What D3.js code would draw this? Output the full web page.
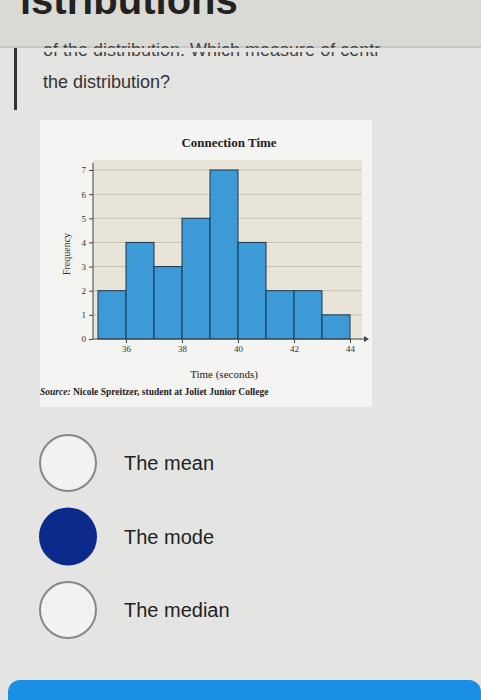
<!DOCTYPE html><html><head><meta charset="utf-8"><script src="https://cdn.jsdelivr.net/npm/d3@7"></script>
<style>body{margin:0;background:#e4e4e2;}svg{display:block}</style></head><body><svg id="c" width="481" height="700"></svg>
<script>
const binStarts=[35,36,37,38,39,40,41,42,43];
const frequencies=[2,4,3,5,7,4,2,2,1];
const xTicks=[36,38,40,42,44];
const yTicks=[0,1,2,3,4,5,6,7];
const options=["The mean","The mode","The median"];
const selected=1;

const svg=d3.select("#c");
svg.append("rect").attr("width",481).attr("height",46).attr("fill","#d9d9d6");
svg.append("text").attr("x",20).attr("y",14).attr("font-family","Liberation Sans, Arial").attr("font-weight","bold").attr("font-size",40).attr("fill","#222").text("istributions");
svg.append("line").attr("x1",0).attr("x2",481).attr("y1",47).attr("y2",47).attr("stroke","#aaa");
svg.append("text").attr("x",43).attr("y",56).attr("font-family","Liberation Sans, Arial").attr("font-size",18).attr("fill","#444").text("of the distribution. Which measure of centr");
svg.append("rect").attr("x",0).attr("y",48).attr("width",481).attr("height",4).attr("fill","#e4e4e2");
svg.append("rect").attr("x",14).attr("y",48).attr("width",3).attr("height",62).attr("fill","#333");
svg.append("text").attr("x",43).attr("y",88).attr("font-family","Liberation Sans, Arial").attr("font-size",18).attr("fill","#333").text("the distribution?");

svg.append("rect").attr("x",40).attr("y",120).attr("width",332).attr("height",287).attr("fill","#f4f4f2");
const x=d3.scaleLinear().domain([35,44]).range([98,350]);
const y=d3.scaleLinear().domain([0,7]).range([339,170]);
const serif="Liberation Serif, Times New Roman";
svg.append("rect").attr("x",93).attr("y",160).attr("width",269).attr("height",179).attr("fill","#e9e4d8");
svg.append("g").selectAll("line").data(yTicks.slice(1)).join("line").attr("x1",93).attr("x2",362).attr("y1",d=>y(d)).attr("y2",d=>y(d)).attr("stroke","#bdb8ad").attr("stroke-width",0.8);
svg.append("g").selectAll("rect").data(binStarts).join("rect")
 .attr("x",d=>x(d)).attr("width",d=>x(d+1)-x(d)).attr("y",(d,i)=>y(frequencies[i])).attr("height",(d,i)=>y(0)-y(frequencies[i]))
 .attr("fill","#3c9ad6").attr("stroke","#1d3550").attr("stroke-width",1);
const ya=svg.append("g").attr("transform","translate(93,0)").call(d3.axisLeft(y).tickValues(yTicks).tickSize(4).tickFormat(d3.format("d")));
const xa=svg.append("g").attr("transform","translate(0,339)").call(d3.axisBottom(x).tickValues(xTicks).tickSize(4).tickFormat(d3.format("d")));
[ya,xa].forEach(a=>{a.select(".domain").attr("stroke","#444");a.selectAll("line").attr("stroke","#444");a.selectAll("text").attr("font-family",serif).attr("font-size",9).attr("fill","#333");});
ya.select(".domain").attr("d","M0,339V163");
xa.select(".domain").attr("d","M93,0H364");
svg.append("path").attr("d","M364,-3L369,0L364,3Z").attr("transform","translate(0,339)").attr("fill","#444");
svg.append("text").attr("x",229).attr("y",147).attr("text-anchor","middle").attr("font-family",serif).attr("font-weight","bold").attr("font-size",13).attr("fill","#222").text("Connection Time");
svg.append("text").attr("transform","translate(70,254) rotate(-90)").attr("text-anchor","middle").attr("font-family",serif).attr("font-size",10).attr("fill","#333").text("Frequency");
svg.append("text").attr("x",224).attr("y",378).attr("text-anchor","middle").attr("font-family",serif).attr("font-size",11).attr("fill","#222").text("Time (seconds)");
const src=svg.append("text").attr("x",40).attr("y",395).attr("font-family",serif).attr("font-size",9.5).attr("font-weight","bold").attr("fill","#222");
src.append("tspan").attr("font-style","italic").text("Source:");
src.append("tspan").text(" Nicole Spreitzer, student at Joliet Junior College");

const oy=d3.scalePoint().domain(options).range([463,610]);
const g=svg.append("g").selectAll("g").data(options).join("g");
g.append("circle").attr("cx",68).attr("cy",d=>oy(d)).attr("r",28)
 .attr("fill",(d,i)=>i===selected?"#0b2a8c":"#f2f2f0").attr("stroke",(d,i)=>i===selected?"#0b2a8c":"#888").attr("stroke-width",2);
g.append("text").attr("x",124).attr("y",d=>oy(d)+7).attr("font-family","Liberation Sans, Arial").attr("font-size",20).attr("fill","#222").text(d=>d);
svg.append("rect").attr("x",8).attr("y",680).attr("width",473).attr("height",30).attr("rx",12).attr("fill","#1a8fe3");
</script></body></html>
